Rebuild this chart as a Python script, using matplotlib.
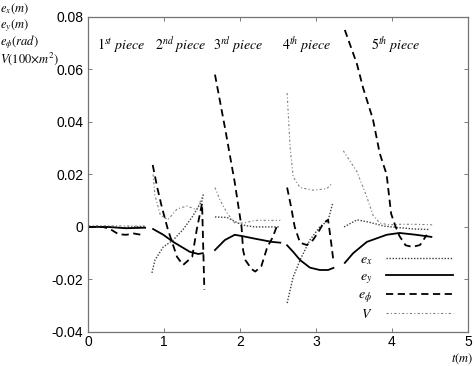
import numpy as np
import matplotlib
matplotlib.use("Agg")
import matplotlib.pyplot as plt

plt.rcParams['mathtext.fontset'] = 'stix'
plt.rcParams['font.family'] = ['Liberation Sans', 'DejaVu Sans']
plt.rcParams['axes.unicode_minus'] = False

nan = np.nan

# five pieces per series, separated by nan
ex_t = [0, 0.15, 0.3, 0.45, 0.6, 0.75, nan,
        0.84, 0.88, 0.99, 1.12, 1.25, 1.37, 1.50, 1.52, nan,
        1.67, 1.83, 1.97, 2.07, 2.2, 2.53, nan,
        2.62, 2.70, 2.80, 2.92, 3.05, 3.16, 3.22, nan,
        3.37, 3.54, 3.70, 3.90, 4.1, 4.3, 4.5]
ex_v = [0.0, 0.0002, 0.0, -0.0003, 0.0, 0.0002, nan,
        -0.0175, -0.0126, -0.0076, -0.005, -0.001, 0.0038, 0.010, 0.013, nan,
        0.0038, 0.0036, 0.0015, 0.0005, 0.0, 0.0, nan,
        -0.029, -0.019, -0.012, -0.005, 0.0, 0.0025, 0.009, nan,
        0.0, 0.0027, 0.0018, 0.0003, -0.0003, -0.0008, -0.001]

ey_t = [0, 0.25, 0.5, 0.75, nan,
        0.855, 0.99, 1.12, 1.34, 1.45, 1.51, nan,
        1.67, 1.80, 1.93, 2.03, 2.20, 2.42, 2.53, nan,
        2.62, 2.70, 2.79, 2.92, 3.05, 3.16, 3.23, nan,
        3.38, 3.49, 3.67, 3.93, 4.1, 4.32, 4.52]
ey_v = [0.0, 0.0, -0.0005, -0.0003, nan,
        -0.0008, -0.003, -0.0057, -0.0095, -0.0103, -0.010, nan,
        -0.0088, -0.005, -0.003, -0.0035, -0.0045, -0.0057, -0.006, nan,
        -0.007, -0.0095, -0.0126, -0.0155, -0.0164, -0.0164, -0.0156, nan,
        -0.0137, -0.010, -0.0057, -0.003, -0.0023, -0.003, -0.0038]

ephi_t = [0, 0.2, 0.3, 0.4, 0.5, 0.6, 0.7, nan,
          0.85, 0.91, 0.97, 1.05, 1.17, 1.25, 1.37, 1.43, 1.50, 1.53, nan,
          1.67, 1.80, 1.93, 2.02, 2.04, 2.07, 2.15, 2.20, 2.28, 2.36, 2.43, 2.50, nan,
          2.62, 2.67, 2.72, 2.79, 2.88, 2.96, 3.03, 3.10, 3.16, 3.20, 3.23, nan,
          3.38, 3.54, 3.62, 3.75, 3.84, 3.93, 3.99, 4.05, 4.10, 4.18, 4.27, 4.37, 4.46]
ephi_v = [0.0, 0.0, -0.001, -0.0028, -0.003, -0.0025, -0.003, nan,
          0.0236, 0.015, 0.0076, -0.001, -0.0114, -0.0145, -0.0114, -0.001, 0.009, -0.024, nan,
          0.058, 0.038, 0.017, 0.0, -0.0088, -0.0126, -0.016, -0.017, -0.015, -0.0076, -0.004, 0.0015, nan,
          0.015, 0.008, 0.0, -0.006, -0.0069, -0.005, -0.002, 0.0015, 0.0027, -0.006, -0.013, nan,
          0.075, 0.062, 0.053, 0.041, 0.028, 0.020, 0.005, 0.0, -0.0035, -0.007, -0.0076, -0.0069, -0.003]

V_t = [0, 0.75, nan,
       0.855, 0.88, 0.95, 1.05, 1.17, 1.30, 1.43, 1.51, nan,
       1.67, 1.74, 1.83, 1.93, 2.05, 2.2, 2.35, 2.53, nan,
       2.62, 2.66, 2.70, 2.79, 2.96, 3.14, 3.22, nan,
       3.36, 3.54, 3.67, 3.75, 3.84, 3.96, 4.1, 4.3, 4.53]
V_v = [0.0005, 0.0003, nan,
       0.020, 0.012, 0.0045, 0.0027, 0.0068, 0.0080, 0.0065, 0.012, nan,
       0.015, 0.010, 0.0053, 0.0015, 0.0015, 0.0025, 0.0025, 0.0025, nan,
       0.051, 0.030, 0.019, 0.015, 0.014, 0.0145, 0.0168, nan,
       0.029, 0.021, 0.0114, 0.0045, 0.0015, 0.0008, 0.0010, 0.0010, 0.0008]

piece_labels = [r'$1^{st}\ piece$', r'$2^{nd}\ piece$', r'$3^{rd}\ piece$',
                r'$4^{th}\ piece$', r'$5^{th}\ piece$']
piece_x = [0.12, 0.88, 1.64, 2.55, 3.72]

fig = plt.figure(figsize=(4.74, 3.66), dpi=100)
ax = fig.add_axes([0.186, 0.093, 0.801, 0.861])

ax.plot(ex_t, ex_v, color='0.25', ls=(0, (1, 1.2)), lw=1.0, label=r'$e_x$')
ax.plot(ey_t, ey_v, color='black', ls='-', lw=1.3, label=r'$e_y$')
ax.plot(ephi_t, ephi_v, color='black', ls=(0, (4, 2.5)), lw=1.3, label=r'$e_\phi$')
ax.plot(V_t, V_v, color='0.5', ls=(0, (2, 2, 1, 2)), lw=0.8, label=r'$V$')

for lbl, px in zip(piece_labels, piece_x):
    ax.text(px, 0.069, lbl, fontsize=10, va='center', ha='left')

ax.set_xlim(0, 5)
ax.set_ylim(-0.04, 0.08)
ax.set_xticks([0, 1, 2, 3, 4, 5])
ax.set_yticks([-0.04, -0.02, 0, 0.02, 0.04, 0.06, 0.08])
ax.set_yticklabels(['-0.04', '-0.02', '0', '0.02', '0.04', '0.06', '0.08'])
ax.tick_params(direction='in', length=3, width=0.6, labelsize=10, right=True, top=True,
               color='0.4')
ax.tick_params(axis='x', pad=2)
for s in ax.spines.values():
    s.set_color('0.45')
    s.set_linewidth(0.9)

leg = ax.legend(loc='lower right', bbox_to_anchor=(0.99, 0.0), markerfirst=False,
                frameon=False, handlelength=4.8, fontsize=10, labelspacing=0.15,
                handletextpad=1.0, borderaxespad=0.4)

ylab = [r'$e_x(m)$', r'$e_y(m)$', r'$e_\phi(rad)$', r'$V(100{\times}m^2)$']
for i, t in enumerate(ylab):
    fig.text(0.0, 0.975 - i * 0.045, t, fontsize=9, ha='left', va='center')
fig.text(0.998, 0.0, r'$t(m)$', fontsize=9, ha='right', va='bottom')

fig.savefig('out.png', dpi=100)
